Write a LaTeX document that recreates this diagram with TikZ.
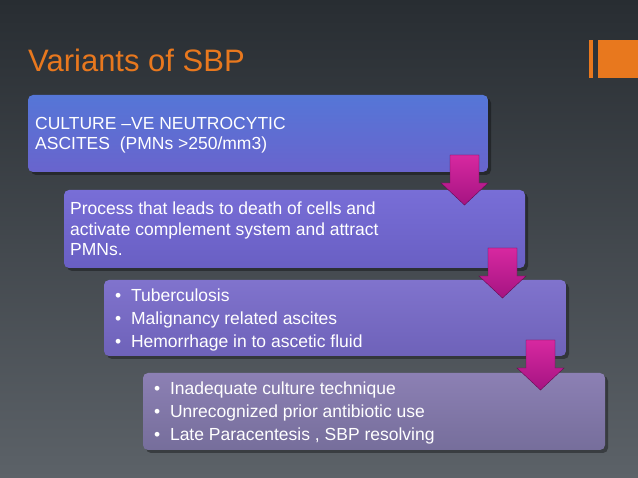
\documentclass[tikz,border=0pt]{standalone}
\usepackage{fontspec}
\setmainfont{Liberation Sans}
\definecolor{bgtop}{RGB}{40,45,50}
\definecolor{bgbot}{RGB}{92,98,104}
\definecolor{org}{RGB}{232,120,30}
\definecolor{b1t}{RGB}{85,118,215}
\definecolor{b1b}{RGB}{105,100,205}
\definecolor{b2t}{RGB}{120,110,215}
\definecolor{b2b}{RGB}{105,95,195}
\definecolor{b3t}{RGB}{128,115,205}
\definecolor{b3b}{RGB}{110,98,185}
\definecolor{b4t}{RGB}{140,128,180}
\definecolor{b4b}{RGB}{118,110,155}
\definecolor{art}{RGB}{215,40,160}
\definecolor{arb}{RGB}{165,20,130}
\definecolor{ard}{RGB}{100,10,80}
\begin{document}
\begin{tikzpicture}[x=1pt,y=-1pt,
  txt/.style={text=white, font=\fontsize{17.5}{20.5}\selectfont, align=left, anchor=west, inner sep=0},
  shad/.style={fill=black,opacity=0.35,rounded corners=5pt},
  dn/.style={line width=0.4pt, top color=art, bottom color=arb, draw=ard}]
\shade[top color=bgtop, bottom color=bgbot] (0,0) rectangle (638,478);
\useasboundingbox (0,0) rectangle (638,478);
\node[anchor=base west, text=org, font=\fontsize{31}{32}\selectfont, inner sep=0] (title) at (28,72) {Variants of SBP};
\fill[org] (589,40) rectangle (593,78);
\fill[org] (598,40) rectangle (638,78);
% boxes
\fill[shad] (31,98) rectangle (491,175);
\shade[rounded corners=5pt, top color=b1t, bottom color=b1b] (28,95) rectangle (488,172);
\fill[shad] (67,193) rectangle (528,271);
\shade[rounded corners=5pt, top color=b2t, bottom color=b2b] (64,190) rectangle (525,268);
\fill[shad] (107,283) rectangle (569,359);
\shade[rounded corners=5pt, top color=b3t, bottom color=b3b] (104,280) rectangle (566,356);
\fill[shad] (146,376) rectangle (608,453);
\shade[rounded corners=5pt, top color=b4t, bottom color=b4b] (143,373) rectangle (605,450);
\node[txt] (t1) at (35,135) {CULTURE --VE NEUTROCYTIC\\ASCITES\ \ (PMNs >250/mm3)};
\node[txt] (t2) at (70,229) {Process that leads to death of cells and\\activate complement system and attract\\PMNs.};
\node[txt, font=\fontsize{17.5}{23}\selectfont] (t3) at (115,320) {\textbullet\ \ Tuberculosis\\\textbullet\ \ Malignancy related ascites\\\textbullet\ \ Hemorrhage in to ascetic fluid};
\node[txt, font=\fontsize{17.5}{23}\selectfont] (t4) at (154,413) {\textbullet\ \ Inadequate culture technique\\\textbullet\ \ Unrecognized prior antibiotic use\\\textbullet\ \ Late Paracentesis , SBP resolving};
% arrows
\foreach \x/\y in {450/155, 488/248, 526/340}{
  \path[dn]
   (\x,\y) -- (\x+29,\y) -- (\x+29,\y+28) -- (\x+38,\y+28) -- (\x+14.5,\y+50) -- (\x-9,\y+28) -- (\x,\y+28) -- cycle;
}
\end{tikzpicture}
\end{document}
